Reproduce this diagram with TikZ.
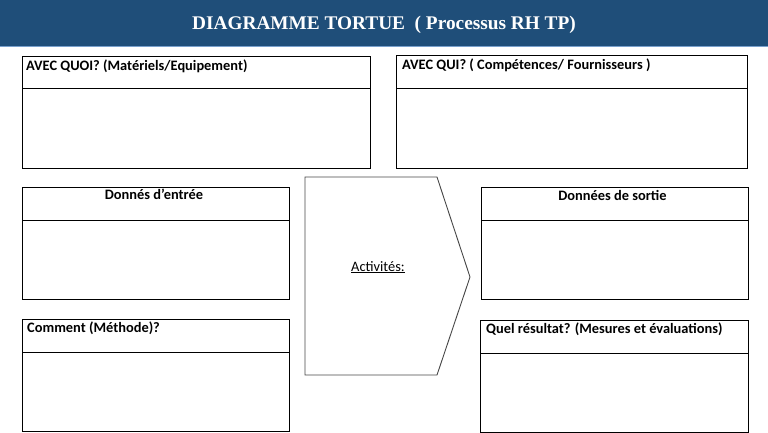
\documentclass[tikz,border=0pt]{standalone}
\usepackage{fontspec}
\setmainfont{Liberation Serif}
\newfontfamily\calfont{Carlito}
\definecolor{hdrblue}{RGB}{31,78,121}
\definecolor{hdrline}{RGB}{120,160,205}
\definecolor{pentgray}{RGB}{70,70,70}
\begin{document}
\begin{tikzpicture}[x=1pt,y=-1pt,
  boxframe/.style={draw=black,line width=1pt},
  boxlabel/.style={inner sep=0pt,font=\calfont\bfseries\fontsize{14.4}{16}\selectfont},
  titletext/.style={inner sep=0pt,text=white,font=\bfseries\fontsize{19.3}{21}\selectfont}]
\useasboundingbox (0,0) rectangle (768,433);
% header
\fill[hdrblue] (0,0) rectangle (768,46);
\draw[hdrline,line width=1pt] (0,46.5) -- (768,46.5);
\node[titletext,anchor=base] (title) at (384,30) {DIAGRAMME TORTUE\ \ ( Processus RH TP)};
% boxes
\draw[boxframe] (22,57) rectangle (370,168);
\coordinate (quoiL) at (22,89); \coordinate (quoiR) at (370,89);
\draw[boxframe] (quoiL) -- (quoiR);
\node[boxlabel,anchor=base west] (quoi) at (26,71) {AVEC QUOI? (Matériels/Equipement)};

\draw[boxframe] (396,56) rectangle (747,168);
\coordinate (quiL) at (396,89); \coordinate (quiR) at (747,89);
\draw[boxframe] (quiL) -- (quiR);
\node[boxlabel,anchor=base west] (qui) at (402,70) {AVEC QUI? ( Compétences/ Fournisseurs )};

\draw[boxframe] (22,187) rectangle (289,299);
\coordinate (entL) at (22,220); \coordinate (entR) at (289,220);
\draw[boxframe] (entL) -- (entR);
\node[boxlabel,anchor=base] (entree) at (154,199) {Donnés d’entrée};

\draw[boxframe] (22,319) rectangle (289,431);
\coordinate (comL) at (22,352.5); \coordinate (comR) at (289,352.5);
\draw[boxframe] (comL) -- (comR);
\node[boxlabel,anchor=base west] (comment) at (27,332) {Comment (Méthode)?};

\draw[boxframe] (481,187) rectangle (748,299);
\coordinate (sorL) at (481,220); \coordinate (sorR) at (748,220);
\draw[boxframe] (sorL) -- (sorR);
\node[boxlabel,anchor=base] (sortie) at (612.5,200) {Données de sortie};

\draw[boxframe] (480,320) rectangle (748,432);
\coordinate (resL) at (480,353); \coordinate (resR) at (748,353);
\draw[boxframe] (resL) -- (resR);
\node[boxlabel,anchor=base west] (resultat) at (486,333) {Quel résultat? (Mesures et évaluations)};

% activities pentagon
\draw[pentgray,line width=0.9pt] (305,177) -- (437,177) -- (470,277) -- (437,375) -- (305,375) -- cycle;
\node[inner sep=0pt,anchor=base,font=\calfont\fontsize{14.4}{16}\selectfont] (act) at (378,271) {\underline{Activités:}};
\end{tikzpicture}
\end{document}
